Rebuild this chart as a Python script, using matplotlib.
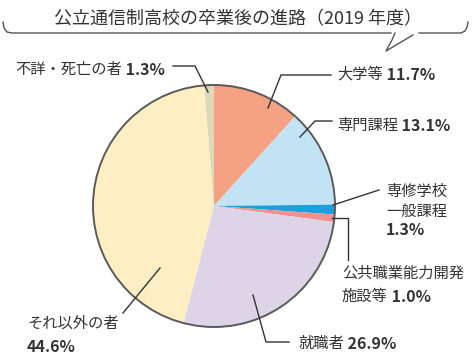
import matplotlib.pyplot as plt
from matplotlib.patches import Circle

plt.rcParams['font.family'] = ['Noto Sans CJK JP', 'DejaVu Sans']

TITLE = "公立通信制高校の卒業後の進路（2019 年度）"
CATEGORIES = ["大学等", "専門課程", "専修学校\n一般課程", "公共職業能力開発\n施設等",
              "就職者", "それ以外の者", "不詳・死亡の者"]
SHARES = [11.7, 13.1, 1.3, 1.0, 26.9, 44.6, 1.3]
COLORS = ["#f4a283", "#c2e3f4", "#1aa0dc", "#f0908f", "#ddd4e8", "#fdefc3", "#ddd8b5"]

W, H = 474, 362
TXT = "#333333"
LINE = "#333333"


def P(x, y):
    # pixel coords (top-left origin) -> data coords
    return (x, H - y)


fig = plt.figure(figsize=(W / 100, H / 100), dpi=100)
ax = fig.add_axes([0, 0, 1, 1])

cx, cy = P(214, 206)
R = 121
ax.pie(SHARES, colors=COLORS, startangle=90, counterclock=False,
       center=(cx, cy), radius=R, wedgeprops=dict(linewidth=0))
ax.add_patch(Circle((cx, cy), R, fill=False, ec="#5a5a5a", lw=1.4, zorder=5))

ax.set_xlim(0, W)
ax.set_ylim(0, H)
ax.set_aspect("equal")
ax.axis("off")

# title with bracket underneath
ax.text(*P(238, 19), TITLE, ha="center", va="center", fontsize=13, color=TXT)
bx = [3, 4, 7, 12, 391]
by = [22, 28, 32, 33, 33]
ax.plot(bx, [H - y for y in by], color="#555555", lw=1.0)
ax.plot([419, 461, 465, 467, 468], [H - 33, H - 33, H - 31, H - 27, H - 22], color="#555555", lw=1.0)
ax.plot([395, 392, 386, 413], [H - 33, H - 40, H - 51, H - 35], color="#555555", lw=1.0)

FS = 11
FSB = 11.5


def line(x, y, s, bold=False):
    return ax.text(*P(x, y), s, ha="left", va="baseline", fontsize=FSB if bold else FS,
                   color=TXT, fontweight="bold" if bold else "normal")


def label(x, y, name, pct):
    t = line(x, y, name)
    ax.annotate(" " + pct, xy=(1, 0), xycoords=t, ha="left", va="bottom",
                fontsize=FSB, color=TXT, fontweight="bold")


def leader(pts):
    ax.plot([p[0] for p in pts], [H - p[1] for p in pts], color=LINE, lw=1.0, zorder=6)


# 大学等
label(337, 79, CATEGORIES[0], f"{SHARES[0]}%")
leader([(268, 108), (281, 75), (331, 75)])
# 専門課程
label(337, 130, CATEGORIES[1], f"{SHARES[1]}%")
leader([(300, 137), (315, 121), (332, 121)])
# 専修学校一般課程
l1, l2 = CATEGORIES[2].split("\n")
line(386, 196, l1)
line(386, 216, l2)
line(386, 235, f"{SHARES[2]}%", bold=True)
leader([(333, 205), (379, 190)])
# 公共職業能力開発施設等
l1, l2 = CATEGORIES[3].split("\n")
line(342, 278, l1)
label(342, 301, l2, f"{SHARES[3]}%")
leader([(332, 218), (348, 218), (348, 260)])
# 就職者
label(298, 348, CATEGORIES[4], f"{SHARES[4]}%")
leader([(253, 295), (266, 342), (289, 342)])
# それ以外の者
line(27, 328, CATEGORIES[5])
line(27, 352, f"{SHARES[5]}%", bold=True)
leader([(123, 313), (160, 268)])
# 不詳・死亡の者
label(15, 74, CATEGORIES[6], f"{SHARES[6]}%")
leader([(173, 66), (195, 66), (208, 92)])

fig.savefig("out.png", dpi=100)
